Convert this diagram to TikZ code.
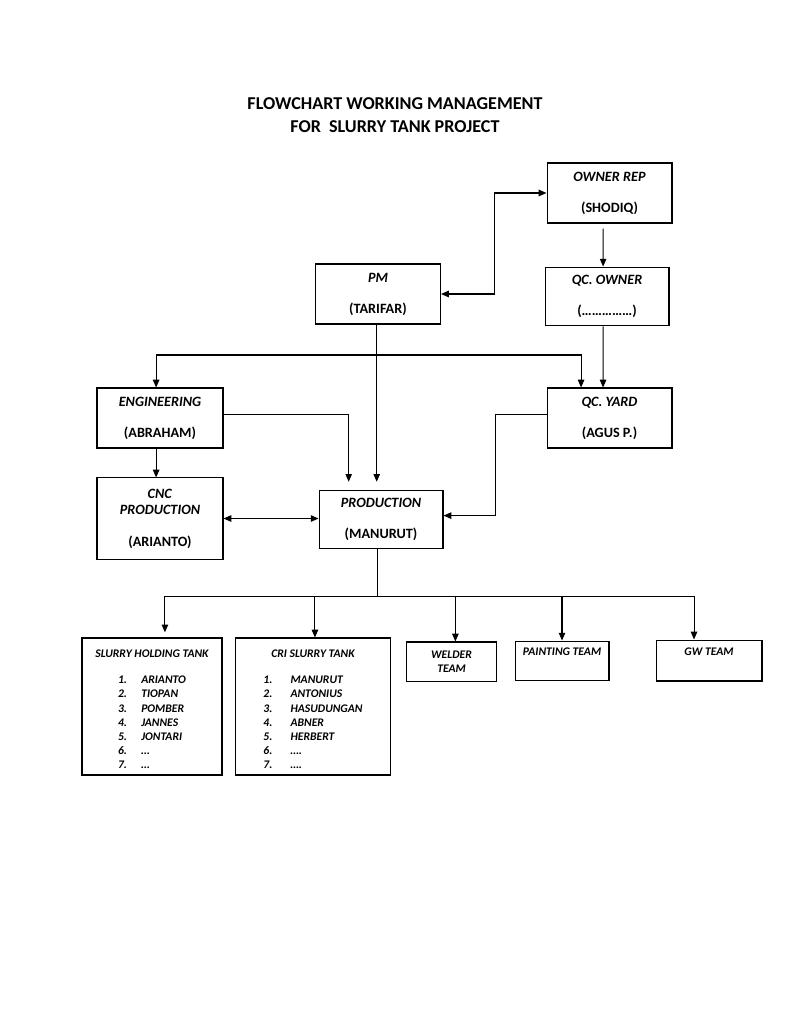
\documentclass[tikz,border=0pt]{standalone}
\usepackage{fontspec}
\setmainfont{Carlito}
\usetikzlibrary{positioning, arrows.meta}

\begin{document}
\begin{tikzpicture}[x=0.7737pt, y=-0.7737pt,
    box/.style={draw, line width=0.8pt, inner sep=0pt, align=center,
      font=\bfseries\fontsize{11}{13}\selectfont},
    listbox/.style={draw, line width=0.8pt, inner sep=0pt, align=center,
      font=\bfseries\itshape\fontsize{9}{11}\selectfont},
    teambox/.style={draw, line width=0.8pt, inner sep=0pt, align=center,
      font=\bfseries\itshape\fontsize{9}{11}\selectfont},
    plain/.style={line width=0.8pt},
    link/.style={line width=0.8pt, -{Triangle[length=6pt,width=5pt]}},
    dlink/.style={line width=0.8pt, {Triangle[length=6pt,width=5pt]}-{Triangle[length=6pt,width=5pt]}}]
    \useasboundingbox (0,0) rectangle (791,1023);

    % Title
    \node[align=center, font=\bfseries\fontsize{14}{17.8}\selectfont] (title) at (395,115.5)
      {FLOWCHART WORKING MANAGEMENT\\FOR\ \ SLURRY TANK PROJECT};

    % Upper boxes
    \node[box, minimum width=96.7pt, minimum height=46.4pt] (ownerrep) at (609.5,193)
      {\textit{OWNER REP}\\[11pt](SHODIQ)};
    \node[box, minimum width=96.7pt, minimum height=46.4pt] (pm) at (378,294)
      {\textit{PM}\\[11pt](TARIFAR)};
    \node[box, minimum width=95.9pt, minimum height=45.6pt] (qcowner) at (607,296.5)
      {\textit{QC. OWNER}\\[11pt](……………)};
    \node[box, minimum width=97.5pt, minimum height=46.4pt] (eng) at (160,418)
      {\textit{ENGINEERING}\\[11pt](ABRAHAM)};
    \node[box, minimum width=96.7pt, minimum height=46.4pt] (qcyard) at (609.5,418)
      {\textit{QC. YARD}\\[11pt](AGUS P.)};
    \node[box, minimum width=97.5pt, minimum height=62.7pt] (cnc) at (160,518.5)
      {\textit{CNC}\\\textit{PRODUCTION}\\[11pt](ARIANTO)};
    \node[box, minimum width=95.9pt, minimum height=45.6pt] (prod) at (381,519.5)
      {\textit{PRODUCTION}\\[11pt](MANURUT)};

    % Teams
    \node[listbox, minimum width=108.3pt, minimum height=106pt] (holding) at (152,706.5)
      {\rule{0pt}{14pt}SLURRY HOLDING TANK\\[9pt]
       \begin{tabular}[t]{@{}p{18pt}@{}l@{}}
         1. & ARIANTO\\ 2. & TIOPAN\\ 3. & POMBER\\ 4. & JANNES\\
         5. & JONTARI\\ 6. & …\\ 7. & …
       \end{tabular}};
    \node[listbox, minimum width=119.2pt, minimum height=106pt] (cri) at (313,706.5)
      {\rule{0pt}{14pt}CRI SLURRY TANK\\[9pt]
       \begin{tabular}[t]{@{}p{21pt}@{}l@{}}
         1. & MANURUT\\ 2. & ANTONIUS\\ 3. & HASUDUNGAN\\ 4. & ABNER\\
         5. & HERBERT\\ 6. & ….\\ 7. & ….
       \end{tabular}};
    \node[teambox, minimum width=68.9pt, minimum height=30.2pt] (welder) at (451.5,661.5)
      {WELDER\\TEAM};
    \node[teambox, minimum width=72.7pt, minimum height=30.9pt] (painting) at (562,661)
      {PAINTING TEAM\\\strut};
    \node[teambox, minimum width=82pt, minimum height=31.7pt] (gw) at (709,660.5)
      {GW TEAM\\\strut};

    % Connectors
    \draw[dlink] (pm.east) -- ++(53,0) |- (ownerrep.west);
    \draw[link, shorten <=4pt] ([xshift=-5pt]ownerrep.south) -- ([xshift=-3pt]qcowner.north);
    \draw[link] ([xshift=-3pt]qcowner.south) -- ([xshift=-5pt]qcyard.north);

    \coordinate (split) at ([xshift=-1pt]pm.south |- 0,355);
    \draw[link, shorten >=6pt] ([xshift=-1pt]pm.south) -- ([xshift=-1pt]pm.south |- prod.north);
    \draw[link] (split) -| ([xshift=-3pt]eng.north);
    \draw[link] (split) -| ([xshift=-22pt]qcyard.north);

    \draw[link, shorten >=6pt] ([yshift=3pt]eng.east) -| ([xshift=-25pt]prod.north);
    \draw[link] ([xshift=-3pt]eng.south) -- ([xshift=-3pt]cnc.north);
    \draw[link] ([yshift=3pt]qcyard.west) -- ++(-51,0) |- ([yshift=3pt]prod.east);
    \draw[dlink] (cnc.east) -- (cnc.east -| prod.west);

    % Production to teams
    \draw[plain] ([xshift=-3pt]prod.south) -- ++(0,47) coordinate (fork);
    \draw[plain] ([xshift=10pt]holding.north |- fork) -- ([xshift=-11.6pt]gw.north |- fork);
    \draw[link, shorten >=4pt] (fork) -| ([xshift=10pt]holding.north);
    \draw[link] (fork) -| ([xshift=1.5pt]cri.north);
    \draw[link] (fork) -| ([xshift=3pt]welder.north);
    \draw[link] (fork) -| (painting.north);
    \draw[link] (fork) -| ([xshift=-11.6pt]gw.north);
\end{tikzpicture}
\end{document}
